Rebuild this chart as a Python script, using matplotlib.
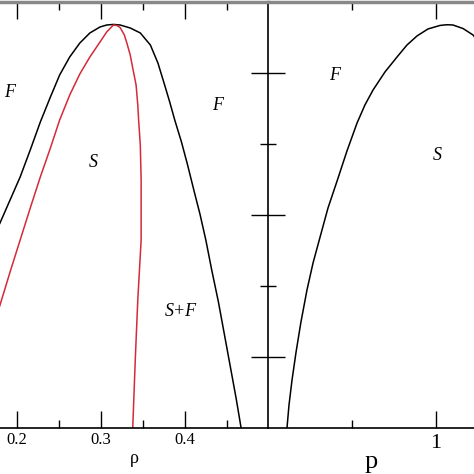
import numpy as np
import matplotlib
matplotlib.use('Agg')
import matplotlib.pyplot as plt
from matplotlib.ticker import FixedLocator, NullFormatter

plt.rcParams['font.family'] = ['Liberation Serif', 'DejaVu Serif']

# left panel: boundary curves vs density rho
rho_black = [0.174, 0.180, 0.192, 0.204, 0.216, 0.228, 0.240, 0.251, 0.263, 0.275, 0.287,
             0.299, 0.307, 0.315, 0.323, 0.335, 0.347, 0.359, 0.368, 0.376, 0.382,
             0.388, 0.396, 0.403, 0.411, 0.418, 0.425, 0.432, 0.440, 0.447, 0.454,
             0.461, 0.467]
y_black = [1.37, 1.444, 1.606, 1.768, 1.958, 2.155, 2.331, 2.486, 2.613, 2.711, 2.782,
           2.824, 2.838, 2.842, 2.838, 2.817, 2.782, 2.697, 2.570, 2.415, 2.296,
           2.169, 2.014, 1.859, 1.669, 1.507, 1.324, 1.113, 0.887, 0.662, 0.437,
           0.211, 0.0]

rho_red = [0.175, 0.180, 0.192, 0.204, 0.216, 0.228, 0.240, 0.251, 0.263, 0.275, 0.287,
           0.299, 0.307, 0.315, 0.319, 0.323, 0.328, 0.331, 0.335, 0.338, 0.342,
           0.344, 0.345, 0.347, 0.348, 0.348, 0.344, 0.341, 0.338]
y_red = [0.775, 0.866, 1.099, 1.324, 1.549, 1.768, 1.972, 2.169, 2.345, 2.493, 2.613,
         2.718, 2.789, 2.838, 2.835, 2.820, 2.768, 2.711, 2.627, 2.535, 2.415,
         2.275, 2.169, 1.993, 1.746, 1.324, 0.901, 0.479, 0.0]

# right panel: boundary vs p
p_black = [0.113, 0.125, 0.143, 0.167, 0.196, 0.232, 0.268, 0.310, 0.357, 0.411,
           0.470, 0.530, 0.577, 0.625, 0.696, 0.768, 0.827, 0.887, 0.952, 1.024,
           1.065, 1.101, 1.161, 1.220, 1.235]
y_right = [0.0, 0.162, 0.338, 0.535, 0.746, 0.972, 1.162, 1.345, 1.549, 1.739,
           1.951, 2.148, 2.275, 2.380, 2.507, 2.613, 2.697, 2.761, 2.810, 2.835,
           2.840, 2.838, 2.813, 2.768, 2.745]

left_labels = [('F', 0.192, 2.36), ('S', 0.291, 1.87), ('F', 0.4395, 2.27), ('S+F', 0.395, 0.82)]
right_labels = [('F', 0.399, 2.48), ('S', 1.006, 1.92)]

fig = plt.figure(figsize=(4.74, 4.74), dpi=100)
ax1 = fig.add_axes([0.0, 46 / 474, 268 / 474, 426 / 474])
ax2 = fig.add_axes([268 / 474, 46 / 474, 206 / 474, 426 / 474])

ax1.plot(rho_black, y_black, color='black', lw=1.1)
ax1.plot(rho_red, y_red, color='#d42a3a', lw=1.1)
ax1.set_xlim(0.18, 0.499)
ax1.set_ylim(0, 3.0)
for s, x, y in left_labels:
    ax1.text(x, y, s, fontsize=13, fontstyle='italic', ha='center', va='center')

ax1.xaxis.set_major_locator(FixedLocator([0.2, 0.3, 0.4]))
ax1.xaxis.set_minor_locator(FixedLocator([0.25, 0.35, 0.45]))
ax1.set_xticklabels(['0.2', '0.3', '0.4'])
ax1.tick_params(axis='x', which='both', direction='in', top=True, labelsize=12, pad=3)
ax1.tick_params(axis='x', which='major', length=12, width=1)
ax1.tick_params(axis='x', which='minor', length=6, width=1)
ax1.set_yticks([])
ax1.set_xlabel('ρ', fontsize=13, labelpad=1)
ax1.spines['left'].set_visible(False)
ax1.spines['right'].set_visible(False)

ax2.plot(p_black, y_right, color='black', lw=1.1)
ax2.set_xlim(0, 1.226)
ax2.set_ylim(0, 3.0)
for s, x, y in right_labels:
    ax2.text(x, y, s, fontsize=13, fontstyle='italic', ha='center', va='center')

ax2.xaxis.set_major_locator(FixedLocator([1.0]))
ax2.xaxis.set_minor_locator(FixedLocator([0.5]))
ax2.set_xticklabels(['1'])
ax2.tick_params(axis='x', which='both', direction='in', top=True, labelsize=16, pad=4)
ax2.tick_params(axis='x', which='major', length=12, width=1)
ax2.tick_params(axis='x', which='minor', length=6, width=1)
ax2.yaxis.set_major_locator(FixedLocator([0.5, 1.5, 2.5]))
ax2.yaxis.set_minor_locator(FixedLocator([1.0, 2.0]))
ax2.yaxis.set_major_formatter(NullFormatter())
ax2.tick_params(axis='y', which='major', direction='inout', length=24, width=1)
ax2.tick_params(axis='y', which='minor', direction='inout', length=11, width=1)
ax2.set_xlabel('p', fontsize=19, labelpad=-1)
ax2.spines['right'].set_visible(False)

for ax in (ax1, ax2):
    ax.spines['top'].set_color('#888888')
    ax.spines['top'].set_linewidth(2.5)
    ax.spines['bottom'].set_linewidth(1.2)
ax2.spines['left'].set_linewidth(1.2)

fig.savefig('out.png', dpi=100)
